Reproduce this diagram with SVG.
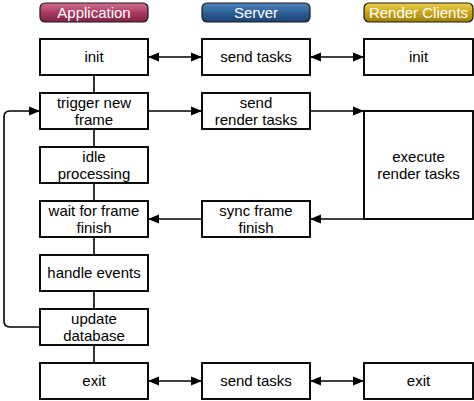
<svg xmlns="http://www.w3.org/2000/svg" width="474" height="401" viewBox="0 0 474 401">
<style>
.box{fill:#fff;stroke:#000;stroke-width:1.9}
.t{font-family:"Liberation Sans",Arial,sans-serif;font-size:15px;fill:#000;text-anchor:middle}
.h{font-family:"Liberation Sans",Arial,sans-serif;font-size:15px;fill:#fff;text-anchor:middle}
.pill{stroke:#1a1a1a;stroke-width:1.2}
.c{fill:none;stroke:#000;stroke-width:1.6}
</style>
<defs>
<linearGradient id="gA" x1="0" y1="0" x2="0" y2="1">
<stop offset="0" stop-color="#d2708f"/><stop offset="0.5" stop-color="#ab3b64"/><stop offset="1" stop-color="#802146"/>
</linearGradient>
<linearGradient id="gS" x1="0" y1="0" x2="0" y2="1">
<stop offset="0" stop-color="#4f86c0"/><stop offset="0.5" stop-color="#2d5f98"/><stop offset="1" stop-color="#1c4373"/>
</linearGradient>
<linearGradient id="gR" x1="0" y1="0" x2="0" y2="1">
<stop offset="0" stop-color="#ecd04a"/><stop offset="0.5" stop-color="#c9a71c"/><stop offset="1" stop-color="#9c800c"/>
</linearGradient>
<marker id="ah" viewBox="0 0 11 10" refX="11" refY="5" markerWidth="11" markerHeight="10" markerUnits="userSpaceOnUse" orient="auto-start-reverse">
<path d="M0,0.5 L11,5 L0,9.5 Z" fill="#000"/>
</marker>
</defs>

<g id="headers">
<g id="h-app"><rect class="pill" x="40" y="3" width="108" height="19" rx="5" fill="url(#gA)"/><text class="h" x="94" y="18">Application</text></g>
<g id="h-server"><rect class="pill" x="202" y="3" width="108" height="19" rx="5" fill="url(#gS)"/><text class="h" x="256" y="18">Server</text></g>
<g id="h-render"><rect class="pill" x="364" y="3" width="109" height="19" rx="5" fill="url(#gR)"/><text class="h" x="418.5" y="18">Render Clients</text></g>
</g>

<g id="connectors">
<line class="c" x1="94" y1="75" x2="94" y2="93"/>
<line class="c" x1="94" y1="129" x2="94" y2="147"/>
<line class="c" x1="94" y1="183" x2="94" y2="201"/>
<line class="c" x1="94" y1="237" x2="94" y2="255"/>
<line class="c" x1="94" y1="291" x2="94" y2="309"/>
<line class="c" x1="94" y1="345" x2="94" y2="363"/>
<line class="c" x1="148" y1="57" x2="202" y2="57" marker-start="url(#ah)" marker-end="url(#ah)"/>
<line class="c" x1="310" y1="57" x2="364" y2="57" marker-start="url(#ah)" marker-end="url(#ah)"/>
<line class="c" x1="148" y1="381" x2="202" y2="381" marker-start="url(#ah)" marker-end="url(#ah)"/>
<line class="c" x1="310" y1="381" x2="364" y2="381" marker-start="url(#ah)" marker-end="url(#ah)"/>
<line class="c" x1="148" y1="111" x2="202" y2="111" marker-end="url(#ah)"/>
<line class="c" x1="310" y1="111" x2="364" y2="111" marker-end="url(#ah)"/>
<line class="c" x1="364" y1="219" x2="310" y2="219" marker-end="url(#ah)"/>
<line class="c" x1="202" y1="219" x2="148" y2="219" marker-end="url(#ah)"/>
<path class="c" d="M40,327 H10 Q4,327 4,321 V117 Q4,111 10,111 H40" marker-end="url(#ah)"/>
</g>

<g id="n-app-init"><rect class="box" x="40" y="39" width="108" height="36"/><text class="t" x="94" y="62">init</text></g>
<g id="n-server-send"><rect class="box" x="202" y="39" width="108" height="36"/><text class="t" x="256" y="62">send tasks</text></g>
<g id="n-rc-init"><rect class="box" x="364" y="39" width="109" height="36"/><text class="t" x="418.5" y="62">init</text></g>

<g id="n-trigger"><rect class="box" x="40" y="93" width="108" height="36"/><text class="t" x="94" y="107.5">trigger new</text><text class="t" x="94" y="124.5">frame</text></g>
<g id="n-send-render"><rect class="box" x="202" y="93" width="108" height="36"/><text class="t" x="256" y="107.5">send</text><text class="t" x="256" y="124.5">render tasks</text></g>
<g id="n-execute"><rect class="box" x="364" y="111" width="109" height="108"/><text class="t" x="418.5" y="162">execute</text><text class="t" x="418.5" y="179">render tasks</text></g>

<g id="n-idle"><rect class="box" x="40" y="147" width="108" height="36"/><text class="t" x="94" y="161.5">idle</text><text class="t" x="94" y="178.5">processing</text></g>
<g id="n-wait"><rect class="box" x="40" y="201" width="108" height="36"/><text class="t" x="94" y="215.5">wait for frame</text><text class="t" x="94" y="232.5">finish</text></g>
<g id="n-sync"><rect class="box" x="202" y="201" width="108" height="36"/><text class="t" x="256" y="215.5">sync frame</text><text class="t" x="256" y="232.5">finish</text></g>
<g id="n-handle"><rect class="box" x="40" y="255" width="108" height="36"/><text class="t" x="94" y="278">handle events</text></g>
<g id="n-update"><rect class="box" x="40" y="309" width="108" height="36"/><text class="t" x="94" y="323.5">update</text><text class="t" x="94" y="340.5">database</text></g>

<g id="n-app-exit"><rect class="box" x="40" y="363" width="108" height="36"/><text class="t" x="94" y="386">exit</text></g>
<g id="n-server-exit"><rect class="box" x="202" y="363" width="108" height="36"/><text class="t" x="256" y="386">send tasks</text></g>
<g id="n-rc-exit"><rect class="box" x="364" y="363" width="109" height="36"/><text class="t" x="418.5" y="386">exit</text></g>
</svg>
